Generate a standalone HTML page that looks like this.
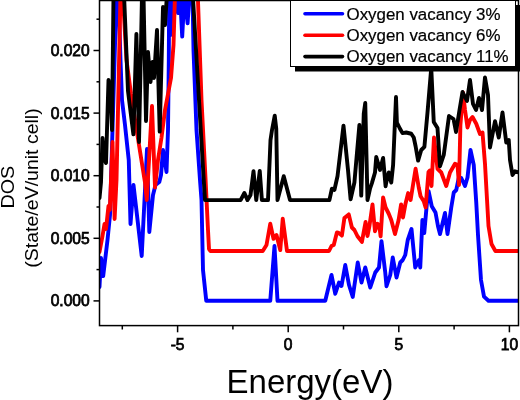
<!DOCTYPE html>
<html><head><meta charset="utf-8"><title>DOS</title>
<style>
html,body{margin:0;padding:0;background:#fff;}
body{width:520px;height:400px;overflow:hidden;}
svg{display:block;}
</style></head><body>
<svg width="520" height="400" viewBox="0 0 520 400">
<rect x="0" y="0" width="520" height="400" fill="#fff"/>
<defs><clipPath id="pc"><rect x="99.5" y="0.5" width="419.0" height="325.1"/></clipPath></defs>
<g clip-path="url(#pc)" fill="none" stroke-width="3.9" stroke-linejoin="round" stroke-linecap="round">
<polyline stroke="#0000ff" points="99.50,287.00 101.00,258.00 103.20,276.00 107.50,240.00 110.00,215.00 116.50,-6.00 118.50,-6.00 120.50,60.00 122.00,100.00 125.00,125.00 128.75,160.00 130.50,224.00 133.50,185.00 141.70,256.00 144.50,200.00 147.00,149.00 149.30,232.00 153.00,195.00 155.50,185.00 159.30,182.00 161.00,175.00 163.00,150.00 166.50,172.00 168.00,130.00 168.80,60.00 169.20,-6.00 170.50,35.00 172.00,-6.00 176.00,-6.00 178.00,13.00 180.00,-6.00 182.20,36.60 184.50,-6.00 187.60,23.40 189.50,-6.00 192.50,-6.00 193.50,50.00 196.50,130.00 200.00,180.00 201.50,200.00 203.00,270.00 206.25,300.80 266.00,300.80 270.25,300.80 274.50,246.00 277.50,300.80 325.25,300.80 331.50,275.00 335.25,293.75 339.00,282.50 341.50,286.00 345.25,265.00 349.00,285.00 352.75,297.00 357.75,262.50 361.50,282.50 365.25,267.50 370.25,287.50 375.25,272.50 379.00,267.50 381.50,241.25 385.25,272.50 386.50,286.25 390.25,275.00 392.75,257.50 396.50,277.50 400.25,262.50 402.75,260.00 405.25,255.00 407.75,240.00 411.50,229.00 415.25,267.50 419.00,260.00 420.25,267.50 422.40,220.00 424.25,233.00 427.40,197.50 428.60,191.25 431.75,206.25 435.50,212.50 438.00,226.25 440.00,234.00 445.00,213.00 447.50,234.00 451.25,207.50 453.75,192.50 456.25,190.00 458.75,178.00 461.25,178.00 465.00,186.00 467.50,177.50 470.50,150.00 473.75,165.00 476.25,202.50 478.00,235.00 481.00,280.00 484.00,296.60 488.50,300.80 518.50,300.80"/>
<polyline stroke="#ff0000" points="99.50,252.00 102.50,236.00 104.50,224.00 106.00,229.00 108.50,206.00 109.80,210.00 111.00,180.00 112.50,142.00 114.60,219.00 116.50,180.00 120.50,-6.00 122.75,-6.00 126.50,60.00 131.00,94.00 139.00,145.00 145.00,182.50 146.75,200.00 149.00,160.00 152.00,106.00 155.00,187.50 158.00,160.00 161.50,137.50 165.00,110.00 171.00,78.00 173.50,45.00 175.00,-6.00 197.75,-6.00 201.50,100.00 205.60,180.00 208.00,230.00 209.00,249.00 210.50,251.00 262.75,251.00 266.50,245.00 270.25,223.75 273.50,238.75 276.50,235.00 280.25,250.00 282.75,218.75 287.00,251.00 329.00,251.00 331.50,246.00 333.75,245.00 336.90,232.50 338.75,233.00 341.90,235.60 344.40,218.00 348.75,214.40 351.90,227.50 354.40,230.00 357.50,236.25 361.90,241.90 365.60,221.90 367.50,236.00 369.40,226.25 372.50,204.40 375.00,231.25 377.50,223.75 379.40,226.25 380.60,236.25 383.10,197.50 385.60,207.50 388.75,213.75 391.25,220.00 395.00,234.00 398.60,220.00 401.10,204.40 403.00,217.50 405.50,203.75 408.10,193.10 410.60,200.00 415.60,168.75 418.75,187.50 420.60,196.25 423.75,201.25 425.60,207.50 428.50,172.00 429.80,170.50 431.50,186.00 434.00,137.50 437.50,168.75 441.25,172.50 446.25,186.00 450.00,172.50 455.00,163.75 457.50,165.00 459.00,185.00 460.40,125.00 463.00,92.50 465.00,110.00 467.50,127.50 470.00,120.00 472.50,117.00 476.25,123.75 480.00,134.00 482.50,132.50 485.00,164.00 488.50,226.00 491.50,244.00 495.40,251.00 518.50,251.00"/>
<polyline stroke="#000000" points="99.50,198.00 101.00,182.00 102.50,138.00 104.00,158.00 106.00,163.00 108.50,80.00 111.00,100.00 112.00,130.00 113.50,-6.00 116.00,-6.00 124.00,-6.00 128.00,91.00 133.40,134.40 136.40,34.00 139.00,142.00 141.50,20.00 142.00,-6.00 143.50,-6.00 144.00,20.00 146.00,121.00 148.00,52.00 150.50,82.00 152.50,62.00 154.00,78.00 157.00,30.00 159.70,131.60 163.00,7.00 165.00,25.00 167.00,-6.00 192.75,-6.00 199.00,100.00 203.75,180.00 205.00,200.10 240.60,200.10 244.40,193.00 247.50,200.10 250.50,195.00 253.50,171.25 256.25,200.10 259.75,171.00 261.90,200.10 268.00,200.10 270.50,140.00 272.00,130.00 274.75,115.60 276.25,128.75 277.50,200.10 283.75,176.25 290.00,200.10 329.40,200.10 331.90,188.75 334.40,190.00 337.50,176.25 343.50,125.60 348.00,170.00 350.60,199.40 354.40,182.50 359.40,125.00 361.25,195.60 363.75,113.75 365.25,103.00 367.50,200.00 370.00,188.75 371.90,183.10 375.00,172.50 376.25,157.00 380.00,170.00 383.10,158.00 385.60,186.25 386.25,182.50 388.75,172.50 391.25,182.50 393.10,165.00 396.00,97.00 396.90,122.50 400.00,128.75 402.50,133.10 406.25,132.50 411.25,133.75 413.75,137.50 415.60,146.25 418.10,160.60 421.25,150.00 424.40,146.90 427.50,112.50 431.25,68.00 433.75,121.90 437.50,128.10 440.00,166.25 443.75,155.00 449.00,116.00 453.50,119.00 456.00,132.00 459.50,110.00 462.50,92.00 467.00,101.00 470.00,80.00 473.00,104.00 476.00,110.00 479.00,98.00 482.00,110.00 485.00,77.50 488.00,95.00 490.00,147.50 495.00,121.25 498.75,137.50 502.50,112.50 506.25,142.50 508.75,140.00 510.00,160.00 512.50,175.00 515.00,171.25 518.50,172.50"/>
</g>
<g stroke="#000" stroke-width="1.5" fill="none">
<rect x="99.5" y="0.5" width="419.0" height="325.1"/>
<line x1="93.5" y1="300.90" x2="99.5" y2="300.90"/><line x1="96.5" y1="269.60" x2="99.5" y2="269.60"/><line x1="93.5" y1="238.30" x2="99.5" y2="238.30"/><line x1="96.5" y1="207.00" x2="99.5" y2="207.00"/><line x1="93.5" y1="175.70" x2="99.5" y2="175.70"/><line x1="96.5" y1="144.40" x2="99.5" y2="144.40"/><line x1="93.5" y1="113.10" x2="99.5" y2="113.10"/><line x1="96.5" y1="81.80" x2="99.5" y2="81.80"/><line x1="93.5" y1="50.50" x2="99.5" y2="50.50"/><line x1="96.5" y1="19.20" x2="99.5" y2="19.20"/>
<line x1="177.60" y1="325.6" x2="177.60" y2="332.3"/><line x1="288.20" y1="325.6" x2="288.20" y2="332.3"/><line x1="398.80" y1="325.6" x2="398.80" y2="332.3"/><line x1="509.40" y1="325.6" x2="509.40" y2="332.3"/><line x1="122.30" y1="325.6" x2="122.30" y2="329.5"/><line x1="232.90" y1="325.6" x2="232.90" y2="329.5"/><line x1="343.50" y1="325.6" x2="343.50" y2="329.5"/><line x1="454.10" y1="325.6" x2="454.10" y2="329.5"/>
</g>
<g font-family="Liberation Sans, Arial, sans-serif" fill="#000">
<text transform="translate(310.00,393.00)" font-size="33.0" text-anchor="middle">Energy(eV)</text>
<text transform="translate(14.40,187.20) rotate(-90) scale(1.07,1)" font-size="18.5" text-anchor="middle">DOS</text>
<text transform="translate(37.80,188.00) rotate(-90) scale(1.055,1)" font-size="18.5" text-anchor="middle">(State/eV/unit cell)</text>
</g>
<g>
<rect x="295" y="5" width="225" height="66.5" fill="#000"/>
<rect x="290.5" y="0.5" width="225" height="66" fill="#fff" stroke="#000" stroke-width="1"/>
<g stroke-width="3.6" stroke-linecap="round">
<line x1="305" y1="13.8" x2="342.5" y2="13.8" stroke="#0000ff"/>
<line x1="305" y1="35.2" x2="342.5" y2="35.2" stroke="#ff0000"/>
<line x1="305" y1="56.6" x2="342.5" y2="56.6" stroke="#000"/>
</g>
<g font-family="Liberation Sans, Arial, sans-serif" fill="#000">
<text transform="translate(346.50,19.60)" font-size="16.9" stroke="#000" stroke-width="0.20">Oxygen vacancy 3%</text>
<text transform="translate(346.50,40.90)" font-size="16.9" stroke="#000" stroke-width="0.20">Oxygen vacancy 6%</text>
<text transform="translate(346.50,62.20)" font-size="16.9" stroke="#000" stroke-width="0.20">Oxygen vacancy 11%</text>
</g>
</g>
<g font-family="Liberation Sans, Arial, sans-serif" fill="#000">
<text transform="translate(89.70,306.30)" font-size="15.6" text-anchor="end" stroke="#000" stroke-width="0.75">0.000</text><text transform="translate(89.70,243.70)" font-size="15.6" text-anchor="end" stroke="#000" stroke-width="0.75">0.005</text><text transform="translate(89.70,181.10)" font-size="15.6" text-anchor="end" stroke="#000" stroke-width="0.75">0.010</text><text transform="translate(89.70,118.50)" font-size="15.6" text-anchor="end" stroke="#000" stroke-width="0.75">0.015</text><text transform="translate(89.70,55.90)" font-size="15.6" text-anchor="end" stroke="#000" stroke-width="0.75">0.020</text>
<text transform="translate(177.60,349.50)" font-size="15.6" text-anchor="middle" stroke="#000" stroke-width="0.75">-5</text><text transform="translate(288.20,349.50)" font-size="15.6" text-anchor="middle" stroke="#000" stroke-width="0.75">0</text><text transform="translate(398.80,349.50)" font-size="15.6" text-anchor="middle" stroke="#000" stroke-width="0.75">5</text><text transform="translate(509.40,349.50)" font-size="15.6" text-anchor="middle" stroke="#000" stroke-width="0.75">10</text>
</g>
</svg>
</body></html>
